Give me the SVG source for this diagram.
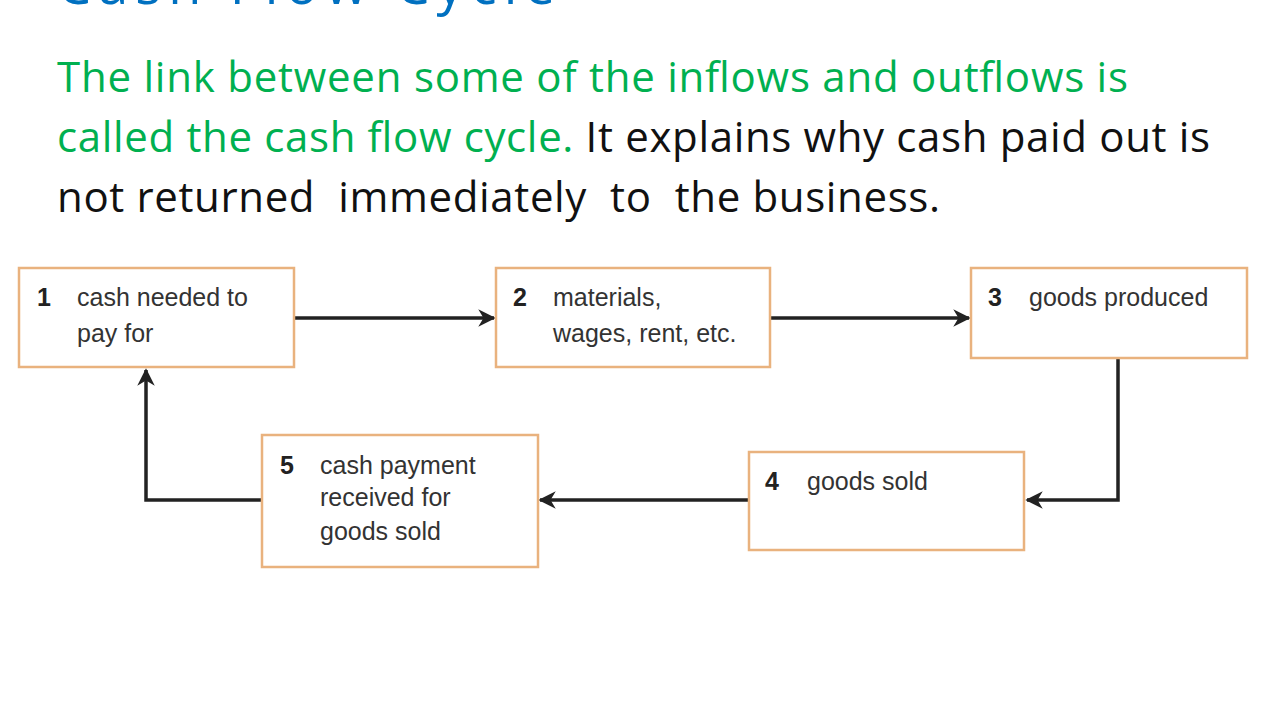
<svg xmlns="http://www.w3.org/2000/svg" width="1280" height="720" viewBox="0 0 1280 720">
<style>
.box{fill:#fff;stroke:#E9B27E;stroke-width:2.5}
.t{font-family:"Liberation Sans",Arial,sans-serif;font-size:25px;fill:#333}
.n{font-family:"Liberation Sans",Arial,sans-serif;font-size:25px;font-weight:bold;fill:#222}
.c{stroke:#222;stroke-width:3.5;fill:none}
.g{fill:#00B050}
.body{font-family:"Open Sans","Liberation Sans",sans-serif;font-size:42px;fill:#111}
</style>
<defs><marker id="a" viewBox="0 0 10 10" refX="9" refY="5" markerWidth="7" markerHeight="5" markerUnits="strokeWidth" orient="auto"><path d="M0,0 L10,5 L0,10 L3,5 Z" fill="#222"/></marker></defs>
<rect width="1280" height="720" fill="#fff"/>
<text x="57" y="4" font-family="Open Sans,Liberation Sans,sans-serif" font-size="54" fill="#0070C0" textLength="498">Cash Flow Cycle</text>
<text class="body" x="57" y="92" textLength="1071"><tspan class="g">The link between some of the inflows and outflows is</tspan></text>
<text class="body" x="57" y="152" textLength="1153"><tspan class="g">called the cash flow cycle.</tspan> It explains why cash paid out is</text>
<text class="body" x="57" y="212" textLength="883" xml:space="preserve">not returned  immediately  to  the business.</text>
<g id="connectors">
<line class="c" x1="294" y1="318" x2="494" y2="318" marker-end="url(#a)"/>
<line class="c" x1="770" y1="318" x2="969" y2="318" marker-end="url(#a)"/>
<polyline class="c" points="1118,358 1118,500 1027,500" marker-end="url(#a)"/>
<line class="c" x1="749" y1="500" x2="540" y2="500" marker-end="url(#a)"/>
<polyline class="c" points="262,500 146,500 146,370" marker-end="url(#a)"/>
</g>
<g id="n1"><rect class="box" x="19" y="268" width="275" height="99"/><text class="n" x="37" y="306">1</text><text class="t" x="77" y="306">cash needed to</text><text class="t" x="77" y="342">pay for</text></g>
<g id="n2"><rect class="box" x="496" y="268" width="274" height="99"/><text class="n" x="513" y="306">2</text><text class="t" x="553" y="306">materials,</text><text class="t" x="553" y="342">wages, rent, etc.</text></g>
<g id="n3"><rect class="box" x="971" y="268" width="276" height="90"/><text class="n" x="988" y="306">3</text><text class="t" x="1029" y="306">goods produced</text></g>
<g id="n4"><rect class="box" x="749" y="452" width="275" height="98"/><text class="n" x="765" y="490">4</text><text class="t" x="807" y="490">goods sold</text></g>
<g id="n5"><rect class="box" x="262" y="435" width="276" height="132"/><text class="n" x="280" y="474">5</text><text class="t" x="320" y="474">cash payment</text><text class="t" x="320" y="506">received for</text><text class="t" x="320" y="540">goods sold</text></g>
</svg>
